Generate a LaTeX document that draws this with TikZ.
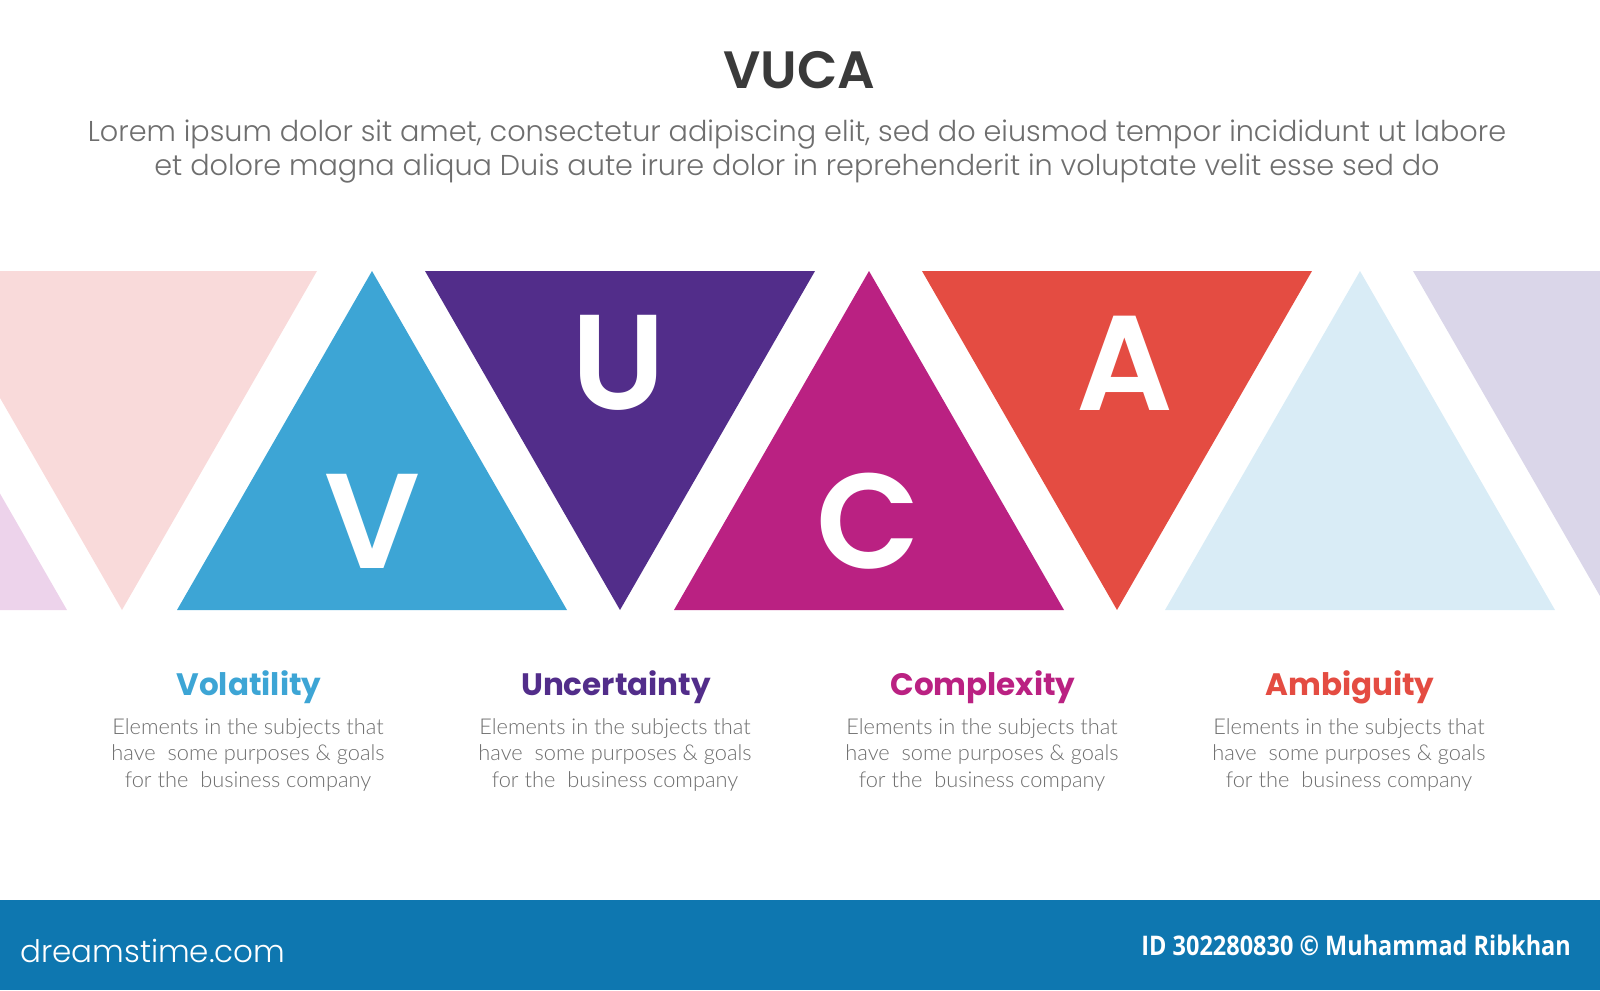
\documentclass[tikz,border=0pt]{standalone}
\usepackage{fontspec}
\setmainfont{Poppins}
\newfontfamily\popthin{Poppins Light}
\newfontfamily\popsemi{Poppins SemiBold}
\newfontfamily\latolight{Lato Light}
\newfontfamily\barfont[FakeStretch=0.87]{Open Sans}
\usetikzlibrary{positioning}

\definecolor{lilac}{HTML}{EDD3EB}
\definecolor{softpink}{HTML}{F9DADA}
\definecolor{vblue}{HTML}{3DA5D5}
\definecolor{upurple}{HTML}{522D8A}
\definecolor{cmagenta}{HTML}{BA2182}
\definecolor{ared}{HTML}{E44C42}
\definecolor{softblue}{HTML}{D9ECF6}
\definecolor{lavender}{HTML}{DAD6E9}
\definecolor{barblue}{HTML}{0E77B0}
\definecolor{titlegray}{HTML}{3A3A3A}
\definecolor{textgray}{HTML}{6E6E6E}

\tikzset{
  bigletter/.style={text=white, inner sep=0pt, font=\popsemi\fontsize{135}{135}\selectfont},
  heading/.style={anchor=base, inner sep=0pt, font=\bfseries\fontsize{31}{31}\selectfont},
  desc/.style={anchor=base, inner sep=0pt, align=center, text=textgray,
    font=\latolight\fontsize{21.8}{26.5}\selectfont}
}

\begin{document}
\begin{tikzpicture}[x=1pt,y=-1pt]
    \useasboundingbox (0,0) rectangle (1600,990);
    \clip (0,0) rectangle (1600,990);

    % row of triangles
    \fill[lilac]    (-323,610) -- (-128,271) -- (67,610) -- cycle;
    \fill[softpink] (-73,271) -- (317,271) -- (122,610) -- cycle;
    \fill[vblue]    (177,610) -- (372,271) -- (567,610) -- cycle;
    \fill[upurple]  (425,271) -- (815,271) -- (620,610) -- cycle;
    \fill[cmagenta] (674,610) -- (869,271) -- (1064,610) -- cycle;
    \fill[ared]     (922,271) -- (1312,271) -- (1117,610) -- cycle;
    \fill[softblue] (1165,610) -- (1360,271) -- (1555,610) -- cycle;
    \fill[lavender] (1413,271) -- (1803,271) -- (1608,610) -- cycle;

    \node[bigletter] (v) at (372,521) {V};
    \node[bigletter] (u) at (619,363) {U};
    \node[bigletter] (c) at (868,521) {C};
    \node[bigletter] (a) at (1125,363) {A};

    % heading
    \node[inner sep=0pt, text=titlegray, font=\popsemi\fontsize{52.5}{52.5}\selectfont] (title) at (799,70) {VUCA};
    \node[anchor=base, inner sep=0pt, align=center, text=textgray, font=\popthin\fontsize{28.7}{34.5}\selectfont] (intro) at (797,175.5)
        {Lorem ipsum dolor sit amet, consectetur adipiscing elit, sed do eiusmod tempor incididunt ut labore\\
         et dolore magna aliqua Duis aute irure dolor in reprehenderit in voluptate velit esse sed do};

    % captions
    \node[heading, text=vblue] (volatility) at (249,695) {Volatility};
    \node[heading, text=upurple] (uncertainty) at (616,695) {Uncertainty};
    \node[heading, text=cmagenta] (complexity) at (983,695) {Complexity};
    \node[heading, text=ared] (ambiguity) at (1350,695) {Ambiguity};

    \node[desc] (vtext) at (248,787) {Elements in the subjects that\\have~ some purposes \& goals\\for the~ business company};
    \node[desc] (utext) at (615,787) {Elements in the subjects that\\have~ some purposes \& goals\\for the~ business company};
    \node[desc] (ctext) at (982,787) {Elements in the subjects that\\have~ some purposes \& goals\\for the~ business company};
    \node[desc] (atext) at (1349,787) {Elements in the subjects that\\have~ some purposes \& goals\\for the~ business company};

    % footer bar
    \fill[barblue] (0,900) rectangle (1600,990);
    \node[anchor=west, inner sep=0pt, text=white, font=\popthin\fontsize{31}{31}\selectfont] (logo) at (20,951) {dreamstime.com};
    \node[anchor=east, inner sep=0pt, text=white, font=\barfont\bfseries\fontsize{27}{27}\selectfont] (credit) at (1571,945) {ID 302280830 © Muhammad Ribkhan};
\end{tikzpicture}
\end{document}
